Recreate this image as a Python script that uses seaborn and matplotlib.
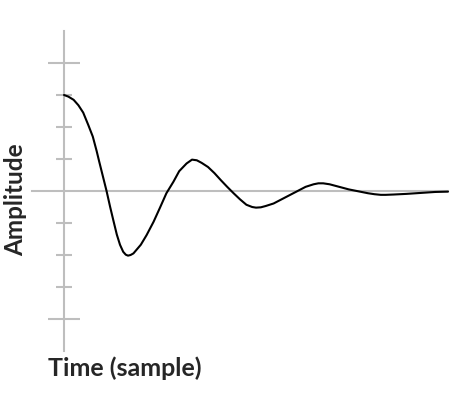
import matplotlib
matplotlib.use("Agg")
import matplotlib.pyplot as plt
import seaborn as sns
import pandas as pd

# values
time = [0.0, 0.135, 0.3, 0.45, 0.6, 0.76, 0.9, 1.02, 1.1, 1.23, 1.33, 1.44, 1.55, 1.65,
        1.75, 1.85, 1.93, 2.0, 2.08, 2.17, 2.4, 2.58, 2.8, 3.0, 3.2, 3.42, 3.6, 3.83,
        4.0, 4.15, 4.3, 4.5, 4.7, 4.9, 5.1, 5.3, 5.5, 5.7, 5.88, 6.0, 6.15, 6.3, 6.55,
        6.8, 7.05, 7.3, 7.55, 7.8, 7.95, 8.1, 8.3, 8.6, 8.9, 9.25, 9.5, 9.7, 9.9, 10.05,
        10.3, 10.7, 11.0, 11.3, 11.6, 12.0]
amplitude = [3.0, 2.95, 2.85, 2.68, 2.45, 2.06, 1.7, 1.25, 0.92, 0.4, 0.0, -0.49, -0.95, -1.36,
             -1.68, -1.9, -1.99, -2.02, -2.0, -1.95, -1.68, -1.38, -0.96, -0.52, -0.07, 0.29, 0.62, 0.86,
             0.98, 0.96, 0.88, 0.75, 0.56, 0.34, 0.13, -0.07, -0.26, -0.43, -0.5, -0.52, -0.51, -0.47, -0.39,
             -0.26, -0.13, 0.0, 0.13, 0.21, 0.24, 0.24, 0.21, 0.13, 0.05, -0.02, -0.07, -0.1, -0.12, -0.12,
             -0.11, -0.09, -0.07, -0.05, -0.03, -0.02]
major_ticks = [-4, 4]
minor_ticks = [-3, -2, -1, 1, 2, 3]

df = pd.DataFrame({"Time": time, "Amplitude": amplitude})

sns.set_style("white")
plt.rcParams['font.family'] = ['Lato', 'DejaVu Sans']

fig = plt.figure(figsize=(4.64, 4.0), dpi=100)
ax = fig.add_axes([16 / 464, 33 / 400, 448 / 464, 352 / 400])

sns.lineplot(data=df, x="Time", y="Amplitude", color="black", linewidth=1.5, ax=ax)
ax.lines[0].set_solid_joinstyle("round")

grey = "#bebebe"
ax.set_xlim(-1.5, 12.5)
ax.set_ylim(-5.5, 5.5)
for side in ["top", "right"]:
    ax.spines[side].set_visible(False)
ax.spines["left"].set_position(("data", 0))
ax.spines["bottom"].set_position(("data", 0))
ax.spines["left"].set_bounds(-5, 5)
ax.spines["bottom"].set_bounds(-1, 12)
for side in ["left", "bottom"]:
    ax.spines[side].set_color(grey)
    ax.spines[side].set_linewidth(1.5)
    ax.spines[side].set_zorder(0)

ax.set_xticks([])
ax.set_yticks(major_ticks)
ax.set_yticks(minor_ticks, minor=True)
ax.tick_params(axis="y", which="major", direction="inout", length=23, width=1.5,
               color=grey, labelleft=False, left=True)
ax.tick_params(axis="y", which="minor", direction="inout", length=11.5, width=1.5,
               color=grey, labelleft=False, left=True)
ax.set_xlabel("")
ax.set_ylabel("")

fig.text(48 / 464, 1 - 376 / 400, "Time (sample)", fontsize=18, fontweight="bold",
         ha="left", va="baseline")
fig.text(27 / 464, 1 - 200 / 400, "Amplitude", fontsize=17.5, fontweight="bold",
         rotation=90, ha="right", va="center")

fig.savefig("out.png", dpi=100)
